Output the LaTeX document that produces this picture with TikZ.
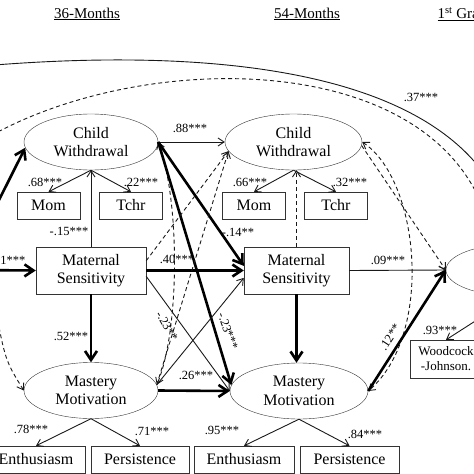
\documentclass[tikz,border=0pt]{standalone}
\usepackage{fontspec}
\setmainfont{Liberation Serif}
\usetikzlibrary{arrows.meta, shapes.geometric}

\newcommand{\txtsize}{\fontsize{16}{18.5}\selectfont}
\newcommand{\lblsize}{\fontsize{12.5}{14}\selectfont}

\begin{document}
\begin{tikzpicture}[x=1pt, y=-1pt,
  latent/.style={draw=black!80, ellipse, minimum width=134pt, minimum height=56pt, inner sep=0pt, align=center, font=\txtsize},
  measured/.style={draw=black!80, minimum width=107pt, minimum height=47pt, inner sep=1pt, align=center, font=\txtsize},
  ind/.style={draw=black!80, minimum width=63pt, minimum height=27pt, inner sep=1pt, font=\txtsize},
  thinarr/.style={-{Straight Barb[length=6pt,width=8pt]}, line width=0.9pt, black!90},
  strong/.style={-{Straight Barb[length=9pt,width=12pt]}, line width=2.6pt},
  ns/.style={thinarr, dash pattern=on 4pt off 3pt},
  nscorr/.style={ns, {Straight Barb[length=6pt,width=8pt]}-{Straight Barb[length=6pt,width=8pt]}},
  coef/.style={font=\lblsize, inner sep=1pt},
  wave/.style={font=\fontsize{15}{17}\selectfont}
]
\clip (0,0) rectangle (474,474);

% time points
\node[wave] (t36) at (87,14) {\underline{36-Months}};
\node[wave] (t54) at (307,14) {\underline{54-Months}};
\node[wave, anchor=west] (t1g) at (434,14) {\underline{1\textsuperscript{st} Grade}};

% 36 months
\node[latent] (cw1) at (91,142) {Child\\Withdrawal};
\node[measured, minimum width=110pt] (ms1) at (91,270.5) {Maternal\\Sensitivity};
\node[latent] (mm1) at (91,390.5) {Mastery\\Motivation};
\node[ind] (mom1) at (48.5,205.5) {Mom};
\node[ind] (tchr1) at (131,205.5) {Tchr};
\node[ind, minimum width=98pt] (enth1) at (36,459.5) {Enthusiasm};
\node[ind, minimum width=98pt] (pers1) at (140,459.5) {Persistence};

% 54 months
\node[latent, minimum width=137pt] (cw2) at (293.5,142) {Child\\Withdrawal};
\node[measured, minimum width=105pt] (ms2) at (296.5,270.5) {Maternal\\Sensitivity};
\node[latent, minimum width=138pt] (mm2) at (299,391) {Mastery\\Motivation};
\node[ind] (mom2) at (254,205.5) {Mom};
\node[ind] (tchr2) at (336,205.5) {Tchr};
\node[ind, minimum width=100pt] (enth2) at (244,459.5) {Enthusiasm};
\node[ind, minimum width=99pt] (pers2) at (349.5,459.5) {Persistence};

% 1st grade
\node[latent, minimum width=136pt, minimum height=52pt] (ach) at (514,270) {};
\node[ind, minimum width=72pt, minimum height=38pt, align=center, font=\fontsize{13}{15}\selectfont] (wj) at (446,359) {Woodcock\\-Johnson.};

% sources left of the crop
\coordinate (inW) at (-12,222);
\coordinate (inS) at (-30,270);
\coordinate (inM) at (-6,300);
\coordinate (src37) at (-40,68);
\coordinate (srcns) at (-20,142);

% long paths to 1st grade
\draw[thinarr] (src37) .. controls (200,45) and (480,62) .. (ach.north);
\draw[ns] (srcns) .. controls (140,45) and (460,45) .. (ach.130);
\node[coef] (l37) at (421,97) {.37***};

% into 36 months
\draw[strong] (inW) -- (cw1.185);
\draw[strong] (inS) -- (ms1.west);
\draw[ns] (inM) .. controls (5,360) .. (mm1.west);
\node[coef] (l1) at (13,260) {1***};

% within 36 months
\draw[thinarr] (ms1.north) -- (cw1.south);
\draw[strong] (ms1.south) -- (mm1.north);
\draw[thinarr] (cw1.south) -- (mom1.north);
\draw[thinarr] (cw1.south) -- (tchr1.north);
\draw[thinarr] (mm1.south) -- (enth1.north);
\draw[thinarr] (mm1.south) -- (pers1.north);
\draw[nscorr] (cw1.east) .. controls (180,200) and (180,330) .. (mm1.5);
\node[coef] (l15) at (69,231) {-.15***};
\node[coef] (l52) at (71,336) {.52***};
\node[coef] (l68) at (45,182) {.68***};
\node[coef] (l22) at (141,182) {.22***};
\node[coef] (l78) at (31,429) {.78***};
\node[coef] (l71) at (152,431) {.71***};

% 36 to 54 months
\draw[thinarr] (cw1.east) -- (cw2.west);
\draw[strong] (cw1.east) -- (ms2.175);
\draw[strong] (cw1.east) -- (mm2.175);
\draw[ns] (ms1.10) -- (cw2.188);
\draw[strong] (ms1.east) -- (ms2.west);
\draw[thinarr] (ms1.-6) -- (mm2.180);
\draw[ns] (mm1.5) -- (cw2.188);
\draw[thinarr] (mm1.5) -- (ms2.188);
\draw[strong] (mm1.east) -- (mm2.west);
\node[coef] (l88) at (190,128) {.88***};
\node[coef] (l14) at (238,232) {-.14**};
\node[coef] (l40) at (177,259) {.40***};
\node[coef, rotate=-70] (l23a) at (228,331) {-.23***};
\node[coef, rotate=-60] (l23b) at (167,326) {-.23**};
\node[coef] (l26) at (196,375) {.26***};

% within 54 months
\draw[ns] (ms2.north) -- (ms2.north |- cw2.south);
\draw[strong] (ms2.south) -- (ms2.south |- mm2.north);
\draw[thinarr] (cw2.south) -- (mom2.north);
\draw[thinarr] (cw2.south) -- (tchr2.north);
\draw[thinarr] (mm2.south) -- (enth2.north);
\draw[thinarr] (mm2.south) -- (pers2.north);
\draw[nscorr] (cw2.east) .. controls (420,180) and (434,335) .. (mm2.east);
\node[coef] (l66) at (250,182) {.66***};
\node[coef] (l32) at (350,182) {.32***};
\node[coef] (l95) at (222,430) {.95***};
\node[coef] (l84) at (365,434) {.84***};

% 54 months to 1st grade
\draw[ns] (cw2.-3) -- (ach.west);
\draw[thinarr] (ms2.east) -- (ach.west);
\draw[strong] (mm2.east) -- (ach.west);
\draw[thinarr] (ach.south) -- (wj.north);
\node[coef] (l09) at (388,260) {.09***};
\node[coef, rotate=57] (l12) at (390,337) {.12**};
\node[coef] (l93) at (440,330) {.93***};

\end{tikzpicture}
\end{document}
